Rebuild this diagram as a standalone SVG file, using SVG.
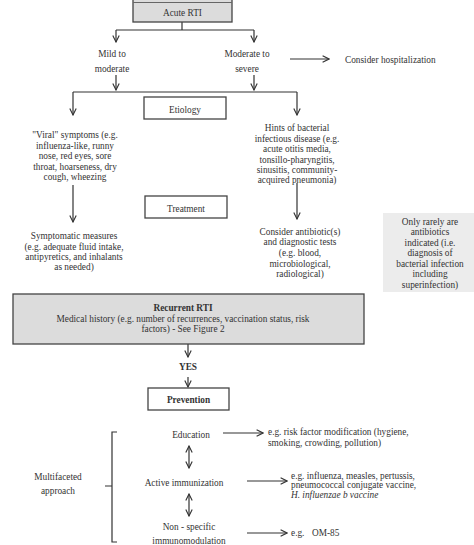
<svg xmlns="http://www.w3.org/2000/svg" width="474" height="545" viewBox="0 0 474 545">
<defs>
<marker id="ah" viewBox="0 0 10 10" refX="9" refY="5" markerWidth="8" markerHeight="8" markerUnits="userSpaceOnUse" orient="auto-start-reverse">
<path d="M1,1 L9,5 L1,9" fill="none" stroke="#333" stroke-width="1.4"/>
</marker>
</defs>
<style>
text{font-family:"Liberation Serif","Times New Roman",serif;font-size:9.3px;fill:#333;}
.c{text-anchor:middle;}
.b{font-weight:bold;}
.i{font-style:italic;}
.box{fill:#fff;stroke:#444;stroke-width:1.3;}
.gbox{fill:#dcdcdc;stroke:#444;stroke-width:1.3;}
.ln{fill:none;stroke:#333;stroke-width:1.2;}
.ar{fill:none;stroke:#333;stroke-width:1.2;marker-end:url(#ah);}
.dar{fill:none;stroke:#333;stroke-width:1.2;marker-end:url(#ah);marker-start:url(#ah);}
</style>
<rect width="474" height="545" fill="#fff"/>
<g id="connectors">
<path class="ln" d="M182,22 V30 M116,30 H254"/>
<path class="ar" d="M116,30 V42"/>
<path class="ar" d="M254,30 V42"/>
<path class="ar" d="M290,59 H329"/>
<path class="ar" d="M116,75 V90"/>
<path class="ar" d="M254,75 V90"/>
<path class="ln" d="M73,92 H297"/>
<path class="ar" d="M73,92 V115"/>
<path class="ar" d="M297,92 V115"/>
<path class="ar" d="M73,185 V222"/>
<path class="ar" d="M297,183 V219"/>
<path class="ar" d="M188,344 V357"/>
<path class="ar" d="M188,377 V387"/>
<path class="ln" d="M117,432 H112 V486 H105 M112,486 V542 H117"/>
<path class="ar" d="M223,433 H263"/>
<path class="ar" d="M247,481 H287"/>
<path class="ar" d="M247,533 H287"/>
<path class="dar" d="M189,446 V468"/>
<path class="dar" d="M189,494 V516"/>
</g>
<g id="acute">
<rect class="gbox" x="133" y="-20" width="99" height="42"/>
<line x1="133" y1="2.5" x2="232" y2="2.5" stroke="#666" stroke-width="1"/>
<text class="c" x="182.5" y="16">Acute RTI</text>
</g>
<g id="mild">
<text class="c" x="112" y="57">Mild to</text>
<text class="c" x="112" y="72">moderate</text>
</g>
<g id="moderate">
<text class="c" x="247" y="57">Moderate to</text>
<text class="c" x="247" y="72">severe</text>
</g>
<g id="hosp"><text x="345" y="63">Consider hospitalization</text></g>
<g id="etiology">
<rect class="box" x="144" y="97" width="82" height="22"/>
<text class="c" x="185" y="113">Etiology</text>
</g>
<g id="viral">
<text class="c" x="75" y="138">"Viral" symptoms (e.g.</text>
<text class="c" x="75" y="149">influenza-like, runny</text>
<text class="c" x="75" y="159">nose, red eyes, sore</text>
<text class="c" x="75" y="170">throat, hoarseness, dry</text>
<text class="c" x="75" y="180">cough, wheezing</text>
</g>
<g id="bacterial">
<text class="c" x="297" y="131">Hints of bacterial</text>
<text class="c" x="297" y="142">infectious disease (e.g.</text>
<text class="c" x="297" y="152">acute otitis media,</text>
<text class="c" x="297" y="163">tonsillo-pharyngitis,</text>
<text class="c" x="297" y="173">sinusitis, community-</text>
<text class="c" x="297" y="183">acquired pneumonia)</text>
</g>
<g id="treatment">
<rect class="box" x="145" y="196" width="82" height="22"/>
<text class="c" x="186" y="212">Treatment</text>
</g>
<g id="symptomatic">
<text class="c" x="74" y="239">Symptomatic measures</text>
<text class="c" x="74" y="250">(e.g. adequate fluid intake,</text>
<text class="c" x="74" y="260">antipyretics, and inhalants</text>
<text class="c" x="74" y="270">as needed)</text>
</g>
<g id="antibiotic">
<text class="c" x="300" y="235">Consider antibiotic(s)</text>
<text class="c" x="300" y="245">and diagnostic tests</text>
<text class="c" x="300" y="256">(e.g. blood,</text>
<text class="c" x="300" y="267">microbiological,</text>
<text class="c" x="300" y="277">radiological)</text>
</g>
<g id="rarely">
<rect x="383" y="213" width="91" height="79" fill="#ececec"/>
<text class="c" x="430" y="225">Only rarely are</text>
<text class="c" x="430" y="235">antibiotics</text>
<text class="c" x="430" y="246">indicated (i.e.</text>
<text class="c" x="430" y="256">diagnosis of</text>
<text class="c" x="430" y="267">bacterial infection</text>
<text class="c" x="430" y="277">including</text>
<text class="c" x="430" y="288">superinfection)</text>
</g>
<g id="recurrent">
<rect class="gbox" x="13" y="294" width="351" height="50"/>
<text class="c b" x="183" y="311">Recurrent RTI</text>
<text class="c" x="183" y="322">Medical history (e.g. number of recurrences, vaccination status, risk</text>
<text class="c" x="183" y="332">factors) - See Figure 2</text>
</g>
<g id="yes"><text class="c b" x="188" y="370">YES</text></g>
<g id="prevention">
<rect class="box" x="148" y="388" width="81" height="22"/>
<text class="c b" x="188.5" y="403">Prevention</text>
</g>
<g id="multifaceted">
<text class="c" x="58" y="480">Multifaceted</text>
<text class="c" x="58" y="494">approach</text>
</g>
<g id="education">
<text class="c" x="191" y="438">Education</text>
<text x="268" y="435">e.g. risk factor modification (hygiene,</text>
<text x="268" y="446">smoking, crowding, pollution)</text>
</g>
<g id="active">
<text class="c" x="184" y="486">Active immunization</text>
<text x="291" y="479">e.g. influenza, measles, pertussis,</text>
<text x="291" y="488">pneumococcal conjugate vaccine,</text>
<text class="i" x="291" y="498">H. influenzae b vaccine</text>
</g>
<g id="nonspecific">
<text class="c" x="189" y="530">Non - specific</text>
<text class="c" x="189" y="543.5">immunomodulation</text>
<text x="291" y="536">e.g.</text>
<text x="312" y="536">OM-85</text>
</g>
</svg>
